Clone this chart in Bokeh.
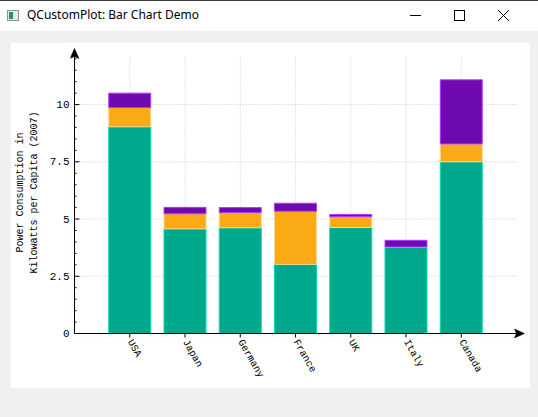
import math
from bokeh.plotting import figure
from bokeh.models import ColumnDataSource, FixedTicker, Div, Spacer
from bokeh.layouts import column, row
from bokeh.embed import file_html
from bokeh.resources import INLINE

# ---------------- data ----------------
window_title = "QCustomPlot: Bar Chart Demo"
countries = ["USA", "Japan", "Germany", "France", "UK", "Italy", "Canada"]
positions = [1, 2, 3, 4, 5, 6, 7]
fossil = [9.03, 4.57, 4.62, 3.02, 4.63, 3.78, 7.50]
nuclear = [0.84, 0.66, 0.66, 2.32, 0.47, 0.00, 0.78]
regen = [0.63, 0.28, 0.22, 0.35, 0.10, 0.29, 2.80]

y_ticks = [0, 2.5, 5, 7.5, 10]
y_tick_labels = ["0", "2.5", "5", "7.5", "10"]
y_minor_ticks = [0.5, 1.0, 1.5, 2.0, 3.0, 3.5, 4.0, 4.5, 5.5, 6.0, 6.5, 7.0,
                 8.0, 8.5, 9.0, 9.5, 10.5, 11.0, 11.5, 12.0]
y_label = "Power Consumption in\nKilowatts per Capita (2007)"

x_min, x_max = 0, 8
y_min, y_max = 0, 12.1

# ---------------- styles / geometry (pixels) ----------------
fill_colors = ["#00a88c", "#faaa14", "#6f09b0"]
line_colors = ["#00dab6", "#ffd78c", "#b239ff"]
grid_color = "#c8c8c8"
bar_width = 0.76
mono = "Liberation Mono"

W, H = 520, 346                 # white plot widget
MB_L, MB_R, MB_T, MB_B = 60, 4, 4, 50
PAD_L, PAD_R, PAD_T, PAD_B = 4, 10, 10, 5   # frame beyond the axis rect
frame_w = W - MB_L - MB_R
frame_h = H - MB_T - MB_B
px_x = (frame_w - PAD_L - PAD_R) / (x_max - x_min)
px_y = (frame_h - PAD_T - PAD_B) / (y_max - y_min)

ARROW_OFF, ARROW_LEN, ARROW_HALF = 8, 10, 4.5
Y_TICK_IN, Y_MINOR_IN, X_TICK_OUT = 5, 2, 4

source = ColumnDataSource(dict(x=positions, fossil=fossil, nuclear=nuclear, regen=regen))

p = figure(width=W, height=H,
           x_range=(x_min - PAD_L / px_x, x_max + PAD_R / px_x),
           y_range=(y_min - PAD_B / px_y, y_max + PAD_T / px_y),
           output_backend="svg", toolbar_location=None,
           min_border_left=MB_L, min_border_right=MB_R,
           min_border_top=MB_T, min_border_bottom=MB_B,
           background_fill_color="white", border_fill_color="white",
           outline_line_color=None)
p.xgrid.visible = False
p.ygrid.visible = False

# dotted grid restricted to the axis rect
p.segment(x0=positions, y0=[y_min] * len(positions), x1=positions, y1=[y_max] * len(positions),
          line_color=grid_color, line_dash="1 2", line_width=1)
p.segment(x0=[x_min] * len(y_ticks), y0=y_ticks, x1=[x_max] * len(y_ticks), y1=y_ticks,
          line_color=grid_color, line_dash="1 2", line_width=1)

# stacked bars
p.vbar_stack(["fossil", "nuclear", "regen"], x="x", width=bar_width,
             fill_color=fill_colors, line_color=line_colors, line_width=1,
             source=source)

# axis lines
x_tip = x_max + ARROW_OFF / px_x
y_tip = y_max + ARROW_OFF / px_y
p.segment(x0=[x_min, x_min], y0=[y_min, y_min], x1=[x_tip - 2 / px_x, x_min], y1=[y_min, y_tip - 2 / px_y],
          line_color="black", line_width=1)

# ticks
p.segment(x0=[x_min] * len(y_ticks), y0=y_ticks,
          x1=[x_min + Y_TICK_IN / px_x] * len(y_ticks), y1=y_ticks,
          line_color="black", line_width=1)
p.segment(x0=[x_min] * len(y_minor_ticks), y0=y_minor_ticks,
          x1=[x_min + Y_MINOR_IN / px_x] * len(y_minor_ticks), y1=y_minor_ticks,
          line_color="black", line_width=1)
p.segment(x0=positions, y0=[y_min] * len(positions),
          x1=positions, y1=[y_min - X_TICK_OUT / px_y] * len(positions),
          line_color="black", line_width=1)

# spike arrow heads
ax_x = [x_tip - ARROW_LEN / px_x, x_tip - 0.8 * ARROW_LEN / px_x, x_tip - ARROW_LEN / px_x, x_tip]
ax_y = [y_min + ARROW_HALF / px_y, y_min, y_min - ARROW_HALF / px_y, y_min]
ay_x = [x_min + ARROW_HALF / px_x, x_min, x_min - ARROW_HALF / px_x, x_min]
ay_y = [y_tip - ARROW_LEN / px_y, y_tip - 0.8 * ARROW_LEN / px_y, y_tip - ARROW_LEN / px_y, y_tip]
p.patches(xs=[ax_x, ay_x], ys=[ax_y, ay_y], fill_color="black", line_color="black", line_width=0.5)

# bokeh axes: only labels
xa = p.xaxis[0]
xa.ticker = FixedTicker(ticks=positions)
xa.major_label_overrides = {k: v for k, v in zip(positions, countries)}
xa.major_label_orientation = -math.pi / 3
xa.major_label_standoff = 2
xa.major_label_text_font = mono
xa.major_label_text_font_size = "10px"
xa.major_label_text_color = "black"

ya = p.yaxis[0]
ya.ticker = FixedTicker(ticks=y_ticks)
ya.major_label_overrides = {k: v for k, v in zip(y_ticks, y_tick_labels)}
ya.major_label_standoff = 1
ya.major_label_text_font = mono
ya.major_label_text_font_size = "11px"
ya.major_label_text_color = "black"
ya.axis_label = y_label
ya.axis_label_text_font = mono
ya.axis_label_text_font_size = "10px"
ya.axis_label_text_font_style = "normal"
ya.axis_label_text_color = "black"
ya.axis_label_standoff = 7

for a in (xa, ya):
    a.axis_line_color = None
    a.major_tick_line_color = None
    a.minor_tick_line_color = None
    a.major_tick_in = 0
    a.major_tick_out = 0
    a.minor_tick_in = 0
    a.minor_tick_out = 0

# ---------------- window chrome ----------------
title_html = f'''<div style="position:relative;width:538px;height:42px;background:#f0f0f0;overflow:hidden;">
<div style="position:absolute;left:0;top:0;width:538px;height:31px;background:#ffffff;border-top:1px solid #3c3c3c;box-sizing:border-box;"></div>
<div style="position:absolute;left:7px;top:10px;width:12px;height:11px;border:1px solid #8a9894;background:#e4ebe8;box-sizing:border-box;"></div>
<div style="position:absolute;left:9px;top:12px;width:4px;height:7px;background:#2e8b6e;"></div>
<span style="position:absolute;left:27px;top:7px;font-family:'Noto Sans';font-size:12px;line-height:16px;color:#000;white-space:nowrap;">{window_title}</span>
<svg style="position:absolute;left:0;top:0" width="538" height="31">
<line x1="410" y1="15.5" x2="421" y2="15.5" stroke="#000" stroke-width="1"/>
<rect x="454.5" y="10.5" width="10" height="10" fill="none" stroke="#000" stroke-width="1"/>
<line x1="498" y1="10" x2="509" y2="21" stroke="#000" stroke-width="1"/>
<line x1="509" y1="10" x2="498" y2="21" stroke="#000" stroke-width="1"/>
</svg>
</div>'''

head = Div(text=title_html, width=538, height=42, margin=0)
left_pad = Spacer(width=10, height=H)
right_pad = Spacer(width=8, height=H)
bottom_pad = Spacer(width=538, height=29)

layout = column(head, row(left_pad, p, right_pad), bottom_pad,
                styles={"background-color": "#f0f0f0"})

open("out.html", "w").write(file_html(layout, INLINE))
